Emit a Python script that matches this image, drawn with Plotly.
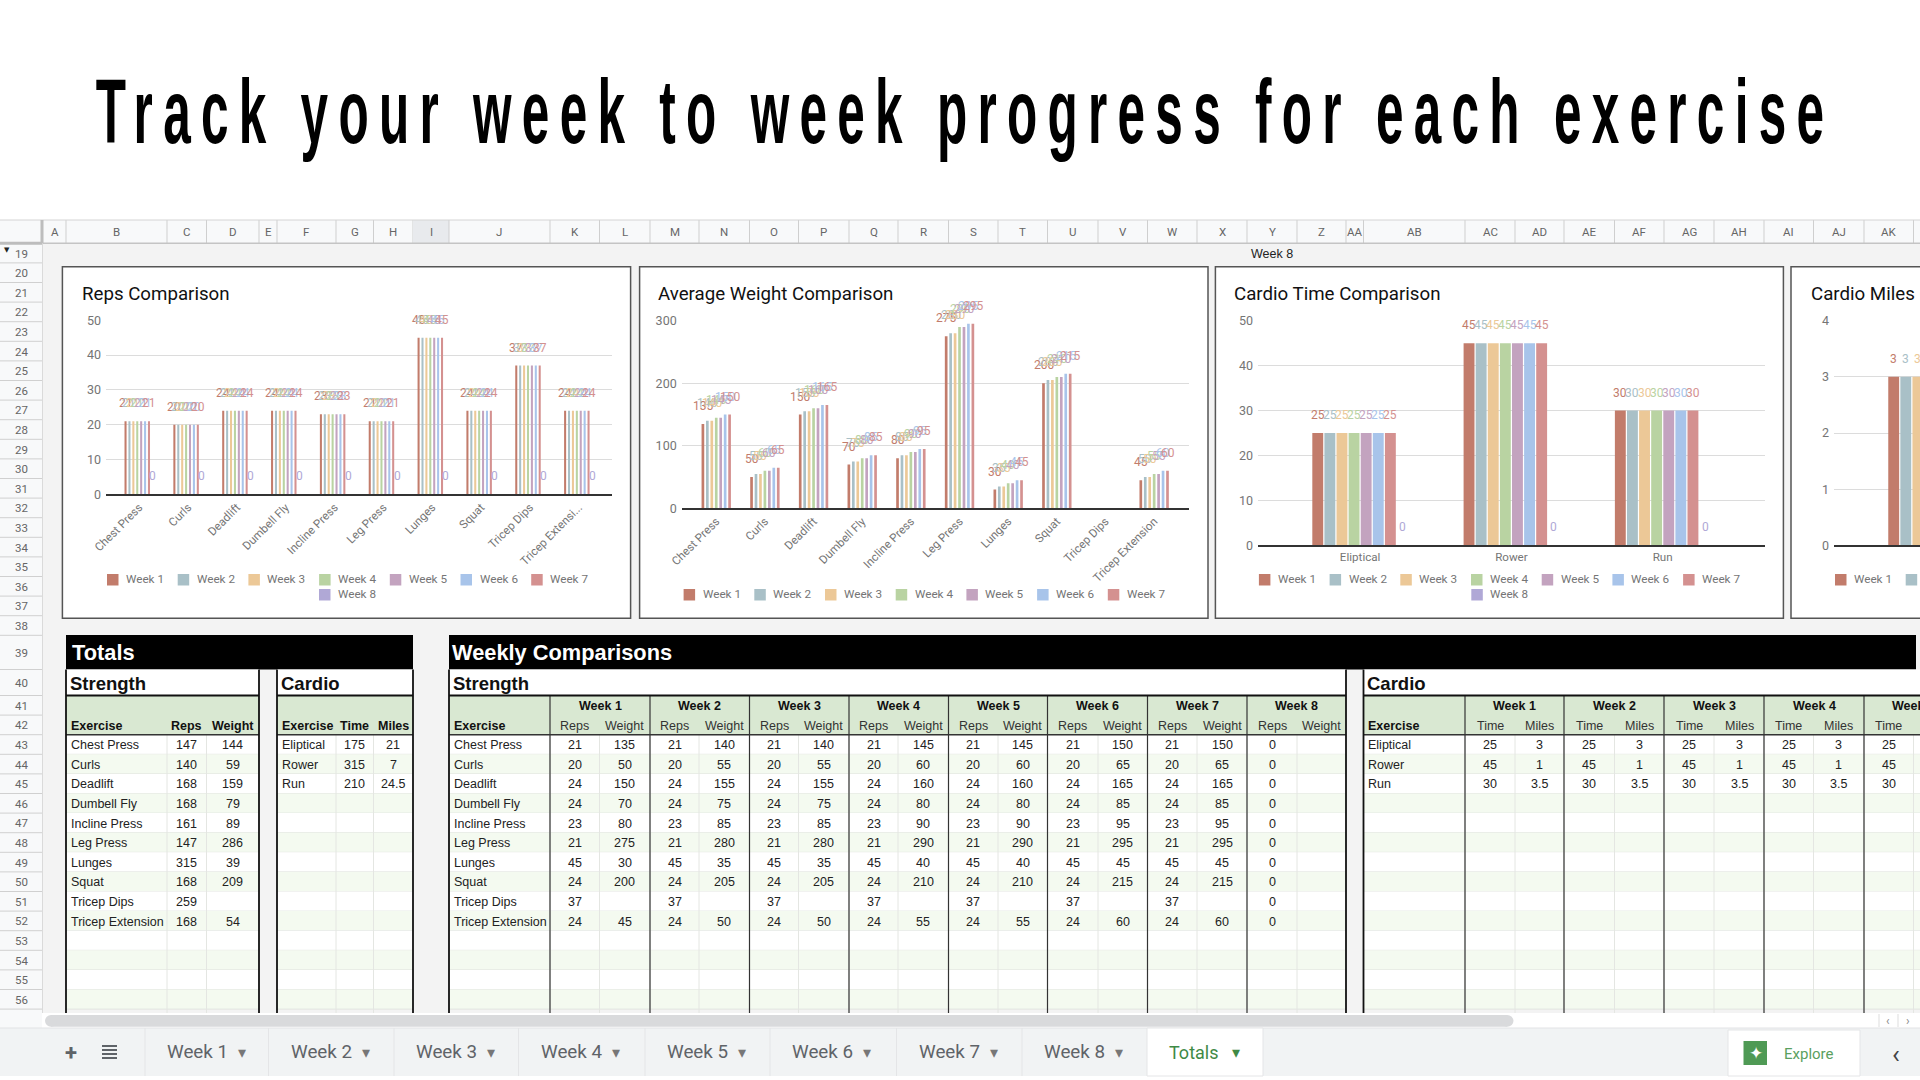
import plotly.graph_objects as go

W = 1920
H = 1080

# data read from the sheet
weeks = ["Week 1", "Week 2", "Week 3", "Week 4", "Week 5", "Week 6", "Week 7", "Week 8"]
week_colors = ["#c27c6b", "#a9c0c7", "#ecc897", "#b9d3a2", "#c3a3bf", "#a8c4ea", "#d49190", "#b0a8d6"]

exercises = ["Chest Press", "Curls", "Deadlift", "Dumbell Fly", "Incline Press", "Leg Press",
             "Lunges", "Squat", "Tricep Dips", "Tricep Extension"]
reps_ticks = ["Chest Press", "Curls", "Deadlift", "Dumbell Fly", "Incline Press", "Leg Press",
              "Lunges", "Squat", "Tricep Dips", "Tricep Extensi..."]

reps_week1 = [21, 20, 24, 24, 23, 21, 45, 24, 37, 24]
reps_week2 = [21, 20, 24, 24, 23, 21, 45, 24, 37, 24]
reps_week3 = [21, 20, 24, 24, 23, 21, 45, 24, 37, 24]
reps_week4 = [21, 20, 24, 24, 23, 21, 45, 24, 37, 24]
reps_week5 = [21, 20, 24, 24, 23, 21, 45, 24, 37, 24]
reps_week6 = [21, 20, 24, 24, 23, 21, 45, 24, 37, 24]
reps_week7 = [21, 20, 24, 24, 23, 21, 45, 24, 37, 24]
reps_week8 = [0, 0, 0, 0, 0, 0, 0, 0, 0, 0]

weight_week1 = [135, 50, 150, 70, 80, 275, 30, 200, None, 45]
weight_week2 = [140, 55, 155, 75, 85, 280, 35, 205, None, 50]
weight_week3 = [140, 55, 155, 75, 85, 280, 35, 205, None, 50]
weight_week4 = [145, 60, 160, 80, 90, 290, 40, 210, None, 55]
weight_week5 = [145, 60, 160, 80, 90, 290, 40, 210, None, 55]
weight_week6 = [150, 65, 165, 85, 95, 295, 45, 215, None, 60]
weight_week7 = [150, 65, 165, 85, 95, 295, 45, 215, None, 60]
weight_week8 = [None] * 10

cardio = ["Eliptical", "Rower", "Run"]
time_week1 = [25, 45, 30]
time_week2 = [25, 45, 30]
time_week3 = [25, 45, 30]
time_week4 = [25, 45, 30]
time_week5 = [25, 45, 30]
time_week6 = [25, 45, 30]
time_week7 = [25, 45, 30]
time_week8 = [0, 0, 0]

miles_week1 = [3, 1, 3.5]
miles_week2 = [3, 1, 3.5]
miles_week3 = [3, 1, 3.5]
miles_week4 = [3, 1, 3.5]
miles_week5 = [3, 1, 3.5]
miles_week6 = [3, 1, 3.5]
miles_week7 = [3, 1, 3.5]
miles_week8 = [0, 0, 0]

total_reps = [147, 140, 168, 168, 161, 147, 315, 168, 259, 168]
total_weight = [144, 59, 159, 79, 89, 286, 39, 209, None, 54]
total_time = [175, 315, 210]
total_miles = [21, 7, 24.5]

reps_all = [reps_week1, reps_week2, reps_week3, reps_week4, reps_week5, reps_week6, reps_week7, reps_week8]
weight_all = [weight_week1, weight_week2, weight_week3, weight_week4, weight_week5, weight_week6, weight_week7, weight_week8]
time_all = [time_week1, time_week2, time_week3, time_week4, time_week5, time_week6, time_week7, time_week8]
miles_all = [miles_week1, miles_week2, miles_week3, miles_week4, miles_week5, miles_week6, miles_week7, miles_week8]

col_names = ["A", "B", "C", "D", "E", "F", "G", "H", "I", "J", "K", "L", "M", "N", "O", "P", "Q", "R", "S",
             "T", "U", "V", "W", "X", "Y", "Z", "AA", "AB", "AC", "AD", "AE", "AF", "AG", "AH", "AI", "AJ", "AK", "AL"]
col_edges = [43, 66, 167, 206.5, 259, 277, 336, 373.5, 413, 449, 550, 599.5, 650, 699, 749.5, 798.5, 849, 898, 948.5,
             998, 1047.5, 1098, 1147.5, 1197, 1247, 1297, 1346, 1363.5, 1465, 1515, 1564, 1614.5, 1664, 1714, 1764,
             1813.5, 1864, 1913.5, 1963]
tab_names = ["Week 1", "Week 2", "Week 3", "Week 4", "Week 5", "Week 6", "Week 7", "Week 8"]
tab_edges = [145, 268.5, 394, 518.5, 645, 770, 896.5, 1022, 1147, 1263]

FONT_CHART = "Roboto"
FONT_CELL = "Liberation Sans"
GREY = "#757575"
BAR_GAP = 0.36

shapes = []
notes = []


def px(x):
    return x / W


def py(y):
    return 1 - y / H


# 画面のピクセル座標で矩形を置く
def rect(x0, y0, x1, y1, fill=None, line=None, lw=1):
    shapes.append(dict(type="rect", xref="paper", yref="paper", layer="below",
                       x0=px(x0), x1=px(x1), y0=py(y0), y1=py(y1),
                       fillcolor=fill if fill else "rgba(0,0,0,0)",
                       line=dict(color=line if line else "rgba(0,0,0,0)", width=lw if line else 0)))


def hline(x0, x1, y, color, lw=1):
    shapes.append(dict(type="line", xref="paper", yref="paper", layer="below",
                       x0=px(x0), x1=px(x1), y0=py(y), y1=py(y), line=dict(color=color, width=lw)))


def vline(x, y0, y1, color, lw=1):
    shapes.append(dict(type="line", xref="paper", yref="paper", layer="below",
                       x0=px(x), x1=px(x), y0=py(y0), y1=py(y1), line=dict(color=color, width=lw)))


def text(x, y, s, size=12.5, color="#222222", anchor="left", family=FONT_CELL):
    notes.append(dict(xref="paper", yref="paper", x=px(x), y=py(y), text=s, showarrow=False,
                      xanchor=anchor, yanchor="middle", borderpad=0,
                      font=dict(family=family, size=size, color=color)))


def fmt(v):
    return "" if v is None else str(v)


fig = go.Figure()
axes = {}


# 1つのグラフ（枠・タイトル・棒・凡例）を描く
def add_chart(num, title, title_x, plot, cats, series, names, ymax, dtick, xrange, ticks, angle, legend_x, legend_y):
    xname = "x" if num == 1 else f"x{num}"
    yname = "y" if num == 1 else f"y{num}"
    text(title_x, 293.5, title, size=18.7, color="#111111", family=FONT_CHART)
    for k, vals in enumerate(series):
        fig.add_trace(go.Bar(x=cats, y=vals, name=names[k], xaxis=xname, yaxis=yname, showlegend=False,
                             marker=dict(color=week_colors[k], line=dict(width=0)), width=plot["bar"]))
        # value labels float above the bars
        slot = (1 - BAR_GAP) / len(series)
        for i, v in enumerate(vals):
            pos = i + (k - (len(series) - 1) / 2) * slot
            if v is None or pos < xrange[0] or pos > xrange[1]:
                continue
            notes.append(dict(xref=xname, yref=yname, x=pos, y=v, text=fmt(v), showarrow=False, yshift=18,
                              xanchor="center", yanchor="middle", borderpad=0,
                              font=dict(family=FONT_CHART, size=12, color=week_colors[k])))
    axes["xaxis" if num == 1 else f"xaxis{num}"] = dict(
        domain=[px(plot["left"]), px(plot["right"])], anchor=yname, type="category", range=xrange,
        tickmode="array", tickvals=cats, ticktext=ticks, tickangle=angle, showgrid=False, zeroline=False,
        showline=True, linecolor="#333333", linewidth=1.5, ticks="",
        tickfont=dict(family=FONT_CHART, size=11.6, color=GREY))
    axes["yaxis" if num == 1 else f"yaxis{num}"] = dict(
        domain=[py(plot["base"]), py(plot["top"])], anchor=xname, range=[0, ymax], dtick=dtick, showgrid=True,
        gridcolor="#dcdcdc", gridwidth=1.2, zeroline=False, showline=False, ticks="", ticklabelstandoff=4,
        tickfont=dict(family=FONT_CHART, size=12.5, color=GREY))
    # 凡例
    for k, name in enumerate(names):
        x0 = legend_x[k]
        y0 = legend_y[k]
        rect(x0, y0, x0 + 11.5, y0 + 11.5, fill=week_colors[k])
        text(x0 + 18, y0 + 5, name, size=11.7, color=GREY, family=FONT_CHART)


def legend_positions(start, count, per_row, wrap_x, top):
    xs = []
    ys = []
    for k in range(count):
        if k < per_row:
            xs.append(start + k * 70.7)
            ys.append(top)
        else:
            xs.append(wrap_x)
            ys.append(top + 15)
    return xs, ys


# ---- sheet chrome: background and headers ----
rect(0, 220, W, 1028, fill="#f3f3f3")

row_top = [243.3 + 19.6 * i for i in range(21)]     # rows 19..39 top
row_top += [669.5, 695.5]                           # rows 40, 41 top
row_top += [695.5 + 19.6 * i for i in range(1, 18)]
row_labels = list(range(19, 57))

rect(0, 243.3, 42, 1013, fill="#f8f9fa")
for n, lab in enumerate(row_labels):
    top = row_top[n]
    bot = row_top[n + 1]
    hline(0, 42, bot, "#d0d0d0", 1)
    text(21, (top + bot) / 2 + 0.5, str(lab), size=11.5, color="#666666", anchor="center", family=FONT_CHART)
text(7, 250, "▼", size=7, color="#222222", anchor="center", family="DejaVu Sans")

rect(0, 220, W, 243.3, fill="#f8f9fa")
for c, name in enumerate(col_names):
    if name == "I":
        rect(col_edges[c], 220, col_edges[c + 1], 243.3, fill="#e8eaed")
    vline(col_edges[c + 1], 220, 243.3, "#cfcfcf", 1)
    text((col_edges[c] + col_edges[c + 1]) / 2, 232, name, size=11.5, color="#666666", anchor="center", family=FONT_CHART)
hline(0, W, 220, "#d4d4d4", 1)
hline(0, W, 243.3, "#c4c4c4", 1.5)
vline(42, 220, 243.3, "#bdbdbd", 3)
hline(0, 42, 243.3, "#bdbdbd", 3)
vline(42.5, 243.3, 1013, "#dadada", 1)
text(1272, 253.5, "Week 8", size=12.5, color="#222222", anchor="center")

# ---- chart frames, then the charts ----
frames = [(62.4, 630.6), (639.6, 1208), (1215.4, 1783.4), (1791, 2359)]
for f in frames:
    rect(f[0], 266.7, f[1], 618.3, fill="#ffffff", line="#555555", lw=1.5)

lx, ly = legend_positions(107, 8, 7, 319, 574)
add_chart(1, "Reps Comparison", 81, dict(left=106, right=612, top=320.3, base=494.3, bar=0.042),
          exercises, reps_all, weeks, 50, 10, [-0.68, 9.68], reps_ticks, -45, lx, ly)
lx, ly = legend_positions(683.6, 7, 7, 0, 589)
add_chart(2, "Average Weight Comparison", 657, dict(left=681.7, right=1188.7, top=320.7, base=508.3, bar=0.055),
          exercises, weight_all[:7], weeks[:7], 300, 100, [-0.71, 9.71], exercises, -45, lx, ly)
lx, ly = legend_positions(1258.9, 8, 7, 1471.3, 574)
add_chart(3, "Cardio Time Comparison", 1233, dict(left=1258, right=1764.8, top=320.7, base=545.3, bar=0.072),
          cardio, time_all, weeks, 50, 10, [-0.675, 2.675], cardio, 0, lx, ly)
lx, ly = legend_positions(1835, 8, 7, 2047, 574)
add_chart(4, "Cardio Miles Comparison", 1809.5, dict(left=1834, right=1920, top=320.7, base=545.3, bar=0.072),
          cardio, miles_all, weeks, 4, 1, [-0.675, -0.106], cardio, 0, lx, ly)

# ---- tables ----
ROW_39 = 635
ROW_40 = 669.5
ROW_41 = 695.5
ROW_42 = 715.1
ROW_43 = 734.7
TABLE_END = 1013
data_tops = [ROW_43 + 19.6 * i for i in range(14)]


def col_x(name):
    return col_edges[col_names.index(name)]


def col_right(name):
    return col_edges[col_names.index(name) + 1]


def col_mid(name):
    return (col_x(name) + col_right(name)) / 2


# 表のブロック（緑ヘッダ＋縞模様の行）
def table_block(first, last, title, labels, columns, headers, groups=None, group_names=None):
    x0 = col_x(first)
    x1 = min(col_right(last), W + 20)
    rect(x0, ROW_40, x1, ROW_41, fill="#ffffff")
    rect(x0, ROW_41, x1, ROW_43, fill="#d9e8d2")
    text(x0 + 2.5, (ROW_40 + ROW_41) / 2 + 1, f"<b>{title}</b>", size=18.5, color="#111111")
    for r, top in enumerate(data_tops):
        rect(x0, top, x1, min(top + 19.6, TABLE_END), fill="#ffffff" if r % 2 == 0 else "#f4faf0")
        hline(x0, x1, top + 19.6, "#e2e5e0", 1)
    i0 = col_names.index(first)
    i1 = col_names.index(last)
    for c in range(i0 + 1, i1 + 1):
        vline(col_edges[c], ROW_43, TABLE_END, "#e4e6e2", 1)
    text(x0 + 3.5, (ROW_42 + ROW_43) / 2 + 1, "<b>Exercise</b>", size=12.5, color="#111111")
    for r, name in enumerate(labels):
        text(x0 + 3.5, data_tops[r] + 10.5, name, size=12.5, color="#222222")
    for col, head in zip(columns, headers):
        bold = groups is None
        label = f"<b>{head}</b>" if bold else head
        text(col_mid(col), (ROW_42 + ROW_43) / 2 + 1, label, size=12.5, color="#111111" if bold else "#333333", anchor="center")
    if groups:
        for g, gname in zip(groups, group_names):
            gx0 = col_x(g[0])
            gx1 = col_right(g[1])
            vline(gx0, ROW_41, TABLE_END, "#333333", 1.2)
            text((gx0 + gx1) / 2, (ROW_41 + ROW_42) / 2 + 1, f"<b>{gname}</b>", size=12.5, color="#111111", anchor="center")
    hline(x0, x1, ROW_41, "#111111", 2)
    hline(x0, x1, ROW_43, "#333333", 1.5)
    vline(x0, ROW_40, TABLE_END, "#111111", 1.8)
    if x1 < W:
        vline(x1, ROW_40, TABLE_END, "#111111", 1.8)


def fill_col(col, values):
    for r, v in enumerate(values):
        if v is not None:
            text(col_mid(col), data_tops[r] + 10.5, fmt(v), size=12.5, color="#222222", anchor="center")


# 黒いセクション見出し
rect(col_x("B"), ROW_39, col_right("H"), ROW_40, fill="#000000")
text(col_x("B") + 4.5, (ROW_39 + ROW_40) / 2, "<b>Totals</b>", size=21.8, color="#ffffff")
rect(col_x("J"), ROW_39, 1916, ROW_40, fill="#000000")
text(col_x("J") + 2, (ROW_39 + ROW_40) / 2, "<b>Weekly Comparisons</b>", size=21.8, color="#ffffff")

table_block("B", "D", "Strength", exercises, ["C", "D"], ["Reps", "Weight"])
fill_col("C", total_reps)
fill_col("D", total_weight)

table_block("F", "H", "Cardio", cardio, ["G", "H"], ["Time", "Miles"])
fill_col("G", total_time)
fill_col("H", total_miles)

strength_cols = ["K", "L", "M", "N", "O", "P", "Q", "R", "S", "T", "U", "V", "W", "X", "Y", "Z"]
strength_heads = ["Reps", "Weight"] * 8
strength_groups = [strength_cols[i:i + 2] for i in range(0, 16, 2)]
table_block("J", "Z", "Strength", exercises, strength_cols, strength_heads, strength_groups, weeks)
for w in range(8):
    fill_col(strength_groups[w][0], reps_all[w])
    fill_col(strength_groups[w][1], weight_all[w])

cardio_cols = ["AC", "AD", "AE", "AF", "AG", "AH", "AI", "AJ", "AK", "AL"]
cardio_heads = ["Time", "Miles"] * 5
cardio_groups = [cardio_cols[i:i + 2] for i in range(0, 10, 2)]
table_block("AB", "AL", "Cardio", cardio, cardio_cols, cardio_heads, cardio_groups, weeks[:5])
for w in range(5):
    fill_col(cardio_groups[w][0], time_all[w])
    fill_col(cardio_groups[w][1], miles_all[w])

# ---- scrollbar and tab bar ----
rect(0, 1013, W, 1028, fill="#ffffff")
rect(0, 1013, 42, 1028, fill="#f8f9fa")
rect(51, 1015, 1507, 1026.7, fill="#d9dadc")
shapes.append(dict(type="circle", xref="paper", yref="paper", layer="below", x0=px(45), x1=px(57), y0=py(1015), y1=py(1026.7),
                   fillcolor="#d9dadc", line=dict(width=0)))
shapes.append(dict(type="circle", xref="paper", yref="paper", layer="below", x0=px(1501), x1=px(1513.5), y0=py(1015), y1=py(1026.7),
                   fillcolor="#d9dadc", line=dict(width=0)))
vline(1879, 1014, 1027, "#dddddd", 1)
vline(1898, 1014, 1027, "#dddddd", 1)
text(1888, 1020.5, "‹", size=12, color="#888888", anchor="center", family=FONT_CHART)
text(1908, 1020.5, "›", size=12, color="#888888", anchor="center", family=FONT_CHART)

rect(0, 1028, W, 1076, fill="#f1f3f4")
rect(0, 1076, W, H, fill="#ffffff")
hline(0, W, 1028, "#e2e3e5", 1)
text(70.6, 1052, "<b>+</b>", size=22, color="#5f6368", anchor="center", family=FONT_CHART)
for ly_ in [1046, 1050, 1054, 1058]:
    rect(102, ly_ - 1, 117, ly_ + 1, fill="#5f6368")
for i, name in enumerate(tab_names):
    vline(tab_edges[i], 1028, 1076, "#e4e5e7", 1)
    text(tab_edges[i] + 21, 1052, name, size=18.8, color="#5f6368", family=FONT_CHART)
    text(tab_edges[i] + 97, 1052, "▾", size=16, color="#777777", anchor="center", family="DejaVu Sans")
rect(tab_edges[8], 1028, tab_edges[9], 1076, fill="#ffffff", line="#e4e5e7", lw=1)
text(tab_edges[8] + 21, 1052, "Totals", size=18, color="#3f8a45", family=FONT_CHART)
text(1236, 1052, "▾", size=16, color="#3f8a45", anchor="center", family="DejaVu Sans")

rect(1728, 1030, 1860, 1076, fill="#ffffff", line="#e4e5e7", lw=1)
rect(1743.5, 1041, 1767, 1065, fill="#4f9a55")
text(1755.5, 1053, "✦", size=17, color="#ffffff", anchor="center", family="DejaVu Sans")
text(1808.5, 1054, "Explore", size=15, color="#5aa05f", anchor="center", family=FONT_CHART)
text(1896, 1054, "‹", size=26, color="#444444", anchor="center", family=FONT_CHART)

# headline
text(965, 112.5, "<b>Track your week to week progress for each exercise</b>", size=90, color="#000000",
     anchor="center", family="Liberation Sans")

fig.update_layout(
    width=W, height=H, margin=dict(l=0, r=0, t=0, b=0, autoexpand=False), autosize=False,
    paper_bgcolor="#ffffff", plot_bgcolor="rgba(0,0,0,0)",
    barmode="group", bargap=BAR_GAP, bargroupgap=0, hovermode=False,
    shapes=shapes, annotations=notes, **axes)

# body margin and the narrow, spaced-out headline
page_js = """
document.body.style.margin = '0';
document.body.style.overflow = 'hidden';
function squeezeHeadline() {
  document.querySelectorAll('.annotation-text').forEach(function (t) {
    if (t.textContent.indexOf('Track your') === 0) {
      t.style.letterSpacing = '18.7px';
      t.style.transformBox = 'fill-box';
      t.style.transformOrigin = 'center';
      t.style.transform = 'scaleX(0.55)';
    }
  });
}
squeezeHeadline();
setTimeout(squeezeHeadline, 300);
"""
fig.write_html("out.html", post_script=page_js, config={"displayModeBar": False})
